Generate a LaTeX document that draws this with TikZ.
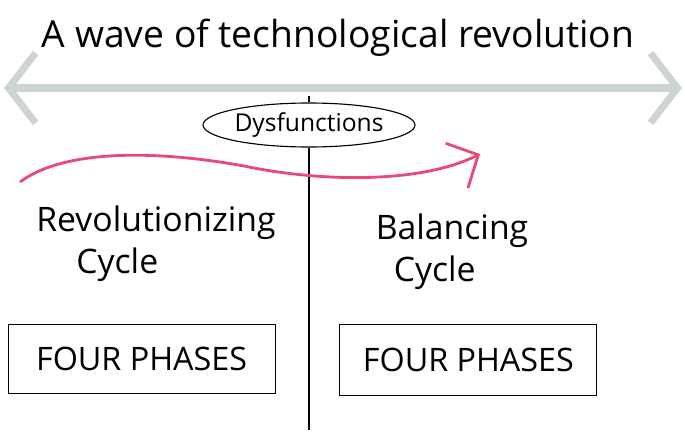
\documentclass[tikz,border=0pt]{standalone}
\usepackage{fontspec}
\setmainfont{Open Sans}
\usetikzlibrary{arrows.meta,positioning,shapes.geometric}
\definecolor{wavegrey}{RGB}{205,213,210}
\definecolor{swingpink}{RGB}{236,72,118}

\begin{document}
\begin{tikzpicture}[
    font=\fontsize{24}{30}\selectfont,
    phasebox/.style={draw, thick, minimum height=1.72cm,
      font=\fontsize{23}{26}\selectfont},
    cycle/.style={align=left},
    bubble/.style={draw, thick, ellipse, inner sep=0pt, minimum width=5.3cm,
      minimum height=1.1cm, font=\fontsize{17.5}{20}\selectfont},
    wave/.style={{Straight Barb[length=.68cm,width=1.75cm]}-{Straight Barb[length=.68cm,width=1.75cm]},
      wavegrey, line width=5pt},
    divider/.style={thick},
    swing/.style={-{Straight Barb[length=.6cm,width=1.25cm]}, swingpink, line width=2pt}
  ]
    \useasboundingbox (0,0) rectangle (17.125,10.9);

    \node[font=\fontsize{26.5}{30}\selectfont] (title) at (8.45,9.95) {A wave of technological revolution};
    \coordinate (wavewest) at (0.1,8.7);
    \coordinate (waveeast) at (17.05,8.7);
    \draw[wave] (wavewest) -- (waveeast);

    \coordinate (axistop) at (7.725,8.5);
    \coordinate (axisbot) at (7.725,0.15);
    \node[bubble] (dys) at (7.725,7.775) {Dysfunctions};
    \draw[divider] (axistop) -- (dys.north);
    \draw[divider] (dys.south) -- (axisbot);

    \coordinate (swingstart) at (0.5,6.35);
    \coordinate (swingend) at (12.0,7.05);
    \draw[swing] (swingstart) .. controls (1.5,7.1) and (3.6,7.2) .. (6.1,6.75)
      .. controls (8,6.35) and (10.5,6.3) .. (swingend);

    \node[cycle] (revcycle) at (3.9,4.8) {Revolutionizing\\\hspace{1cm}Cycle};
    \node[cycle] (balcycle) at (11.3,4.6) {Balancing\\\hspace{.45cm}Cycle};

    \node[phasebox, minimum width=6.675cm] (revphases) at (3.54,1.925) {FOUR PHASES};
    \node[phasebox, minimum width=6.425cm, minimum height=1.775cm] (balphases) at (11.71,1.89) {FOUR PHASES};
  \end{tikzpicture}
\end{document}
